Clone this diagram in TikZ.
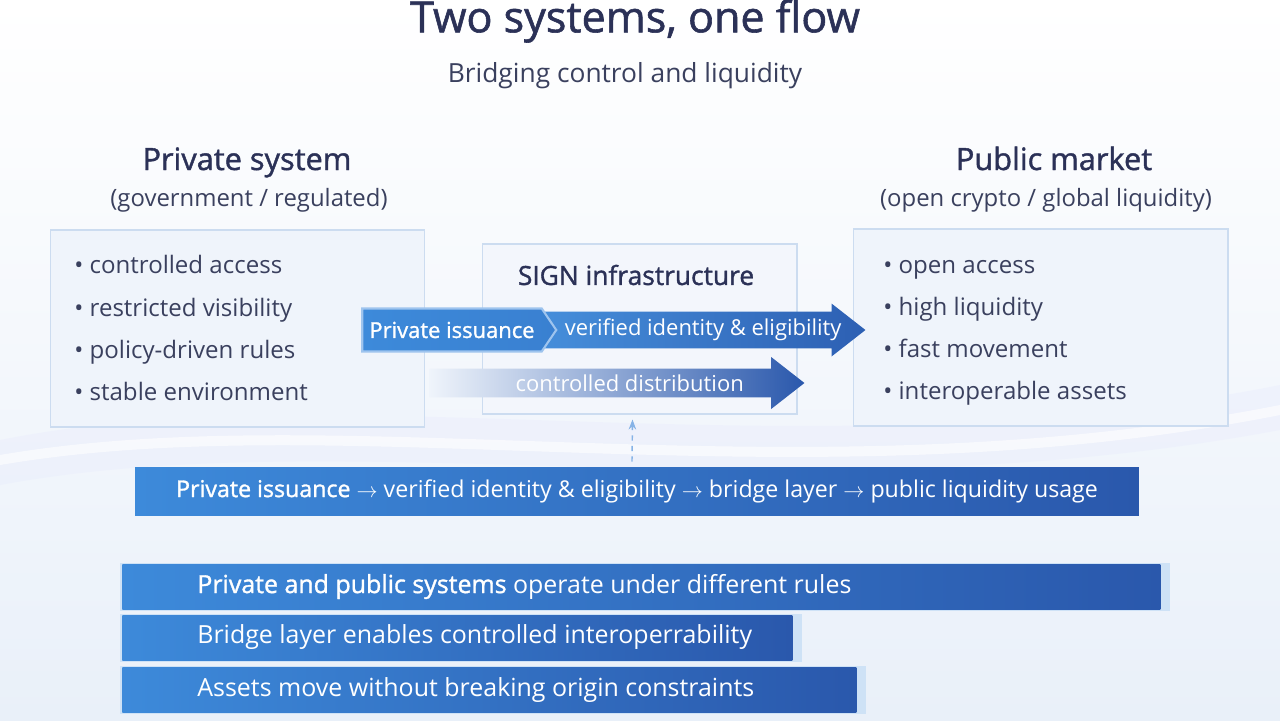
\documentclass[tikz,border=0pt]{standalone}
\usepackage{fontspec}
\setmainfont{Open Sans}
\newfontfamily\medium{Open Sans}[FakeBold=1.3]
\usetikzlibrary{shapes.arrows, shapes.symbols, arrows.meta, positioning, calc}

\definecolor{navy}{HTML}{2B3157}
\definecolor{textgray}{HTML}{3A405E}
\definecolor{bgblue}{HTML}{E9F0F9}
\definecolor{panelfill}{HTML}{EFF4FB}
\definecolor{panelline}{HTML}{CCDCF0}
\definecolor{signfill}{HTML}{F3F6FC}
\definecolor{barlight}{HTML}{3D8ADA}
\definecolor{bardark}{HTML}{2A58AC}
\definecolor{gapblue}{HTML}{9EC4EE}
\definecolor{dashblue}{HTML}{86B3E6}

\begin{document}
\begin{tikzpicture}[x=0.02cm, y=-0.02cm,
  panel/.style={draw=panelline, line width=0.6pt, fill=panelfill, minimum width=7.5cm, minimum height=3.94cm, inner sep=0pt},
  heading/.style={anchor=base, text=navy, font=\fontsize{17.5}{20}\medium},
  subhead/.style={text=textgray, font=\fontsize{13.6}{16}\selectfont},
  item/.style={anchor=base west, inner sep=0pt, text=textgray, font=\fontsize{13.7}{16}\selectfont},
  arrowtxt/.style={text=white, font=\fontsize{12.5}{15}\selectfont},
  bar/.style={anchor=west, minimum height=0.9cm, inner sep=0pt, shading=axis, left color=barlight, right color=bardark},
  barglow/.style={anchor=west, minimum height=0.96cm, inner sep=0pt, fill=barlight!25},
  bartext/.style={anchor=west, inner sep=0pt, text=white, font=\fontsize{14.2}{16}\selectfont},
  dashlink/.style={dashed, dashblue, line width=0.8pt, -{Stealth[length=2mm]}}
]

  % ===== fondo =====
  \shade[top color=white, bottom color=bgblue] (0,0) rectangle (1280,720);
  \useasboundingbox (0,0) rectangle (1280,720);
  \fill[bgblue!80!blue!40, opacity=0.25] (0,440) .. controls (350,370) and (800,480) .. (1280,385)
    -- (1280,430) .. controls (800,520) and (350,420) .. (0,485) -- cycle;
  \fill[white, opacity=0.6] (0,455) .. controls (350,395) and (800,500) .. (1280,405)
    -- (1280,415) .. controls (800,510) and (350,405) .. (0,465) -- cycle;

  % ===== titulos =====
  \node[text=navy, font=\fontsize{24.5}{28}\medium] (title) at (635,21) {Two systems, one flow};
  \node[subhead, font=\fontsize{15}{18}\selectfont] (subtitle) at (625,76) {Bridging control and liquidity};

  % ===== sistema privado =====
  \node[heading] (privhead) at (247,170) {Private system};
  \node[subhead] (privsub) at (249,200) {(government / regulated)};
  \node[panel] (priv) at (237.5,328.5) {};
  \foreach \y/\txt in {264/controlled access, 307/restricted visibility, 349/policy-driven rules, 391/stable environment}
    \node[item] (priv-\y) at (74,\y+9) {\textbullet\ \txt};

  % ===== mercado publico =====
  \node[heading] (pubhead) at (1054,170) {Public market};
  \node[subhead] (pubsub) at (1046,200) {(open crypto / global liquidity)};
  \node[panel] (pub) at (1040.5,327.5) {};
  \foreach \y/\txt in {264/open access, 306/high liquidity, 348/fast movement, 390/interoperable assets}
    \node[item] (pub-\y) at (883,\y+9) {\textbullet\ \txt};

  % ===== SIGN =====
  \node[draw=panelline, line width=0.6pt, fill=signfill, minimum width=6.3cm, minimum height=3.4cm] (sign) at (639.5,329) {};
  \node[text=navy, font=\fontsize{15}{18}\medium] (signtitle) at (636,275) {SIGN infrastructure};

  % flechas
  \node[single arrow, shading=axis, left color=barlight!95!white, right color=bardark!85!barlight,
        minimum height=6.5cm, minimum width=1.06cm, single arrow head extend=0.1cm,
        single arrow tip angle=76, inner sep=0pt, arrowtxt, anchor=tip] (verified) at (866,330) {\hspace{0.68cm}verified identity \& eligibility};
  \node[signal, signal to=east, signal pointer angle=112, shading=axis, left color=barlight, right color=barlight!80!bardark,
        draw=gapblue, line width=1.2pt, minimum width=3.88cm, minimum height=0.86cm, inner sep=0pt,
        arrowtxt, font=\fontsize{12.5}{15}\medium] (issue) at (452,330) {Private issuance};
  \node[single arrow, shading=axis, left color=panelfill, right color=bardark,
        minimum height=7.5cm, minimum width=1.04cm, single arrow head extend=0.14cm,
        single arrow tip angle=76, inner sep=0pt, arrowtxt, anchor=tip] (distrib) at (805,383) {\hspace{0.88cm}controlled distribution};

  % ===== barra de flujo =====
  \node[shading=axis, left color=barlight, right color=bardark, minimum width=20.08cm, minimum height=0.96cm,
        inner sep=0pt, text=white, font=\fontsize{13.2}{16}\selectfont] (flow) at (637,491)
    {{\medium Private issuance} $\rightarrow$ verified identity \& eligibility $\rightarrow$ bridge layer $\rightarrow$ public liquidity usage};
  \draw[dashlink] ([xshift=-0.1cm, yshift=0.1cm]flow.north) -- ([xshift=-0.14cm, yshift=-0.1cm]sign.south);

  % ===== barras inferiores =====
  \foreach \y/\w/\txt [count=\i] in {586.5/1038/{{\medium Private and public systems} operate under different rules},
                                     637.5/670/{Bridge layer enables controlled interoperrability},
                                     690/734/{Assets move without breaking origin constraints}} {
    \node[barglow, minimum width=(\w+12)*0.02cm] (glow\i) at (120,\y) {};
    \node[bar, minimum width=\w*0.02cm] (bar\i) at (122,\y) {};
    \node[bartext] (bartxt\i) at (197,\y) {\txt};
  }

\end{tikzpicture}
\end{document}
